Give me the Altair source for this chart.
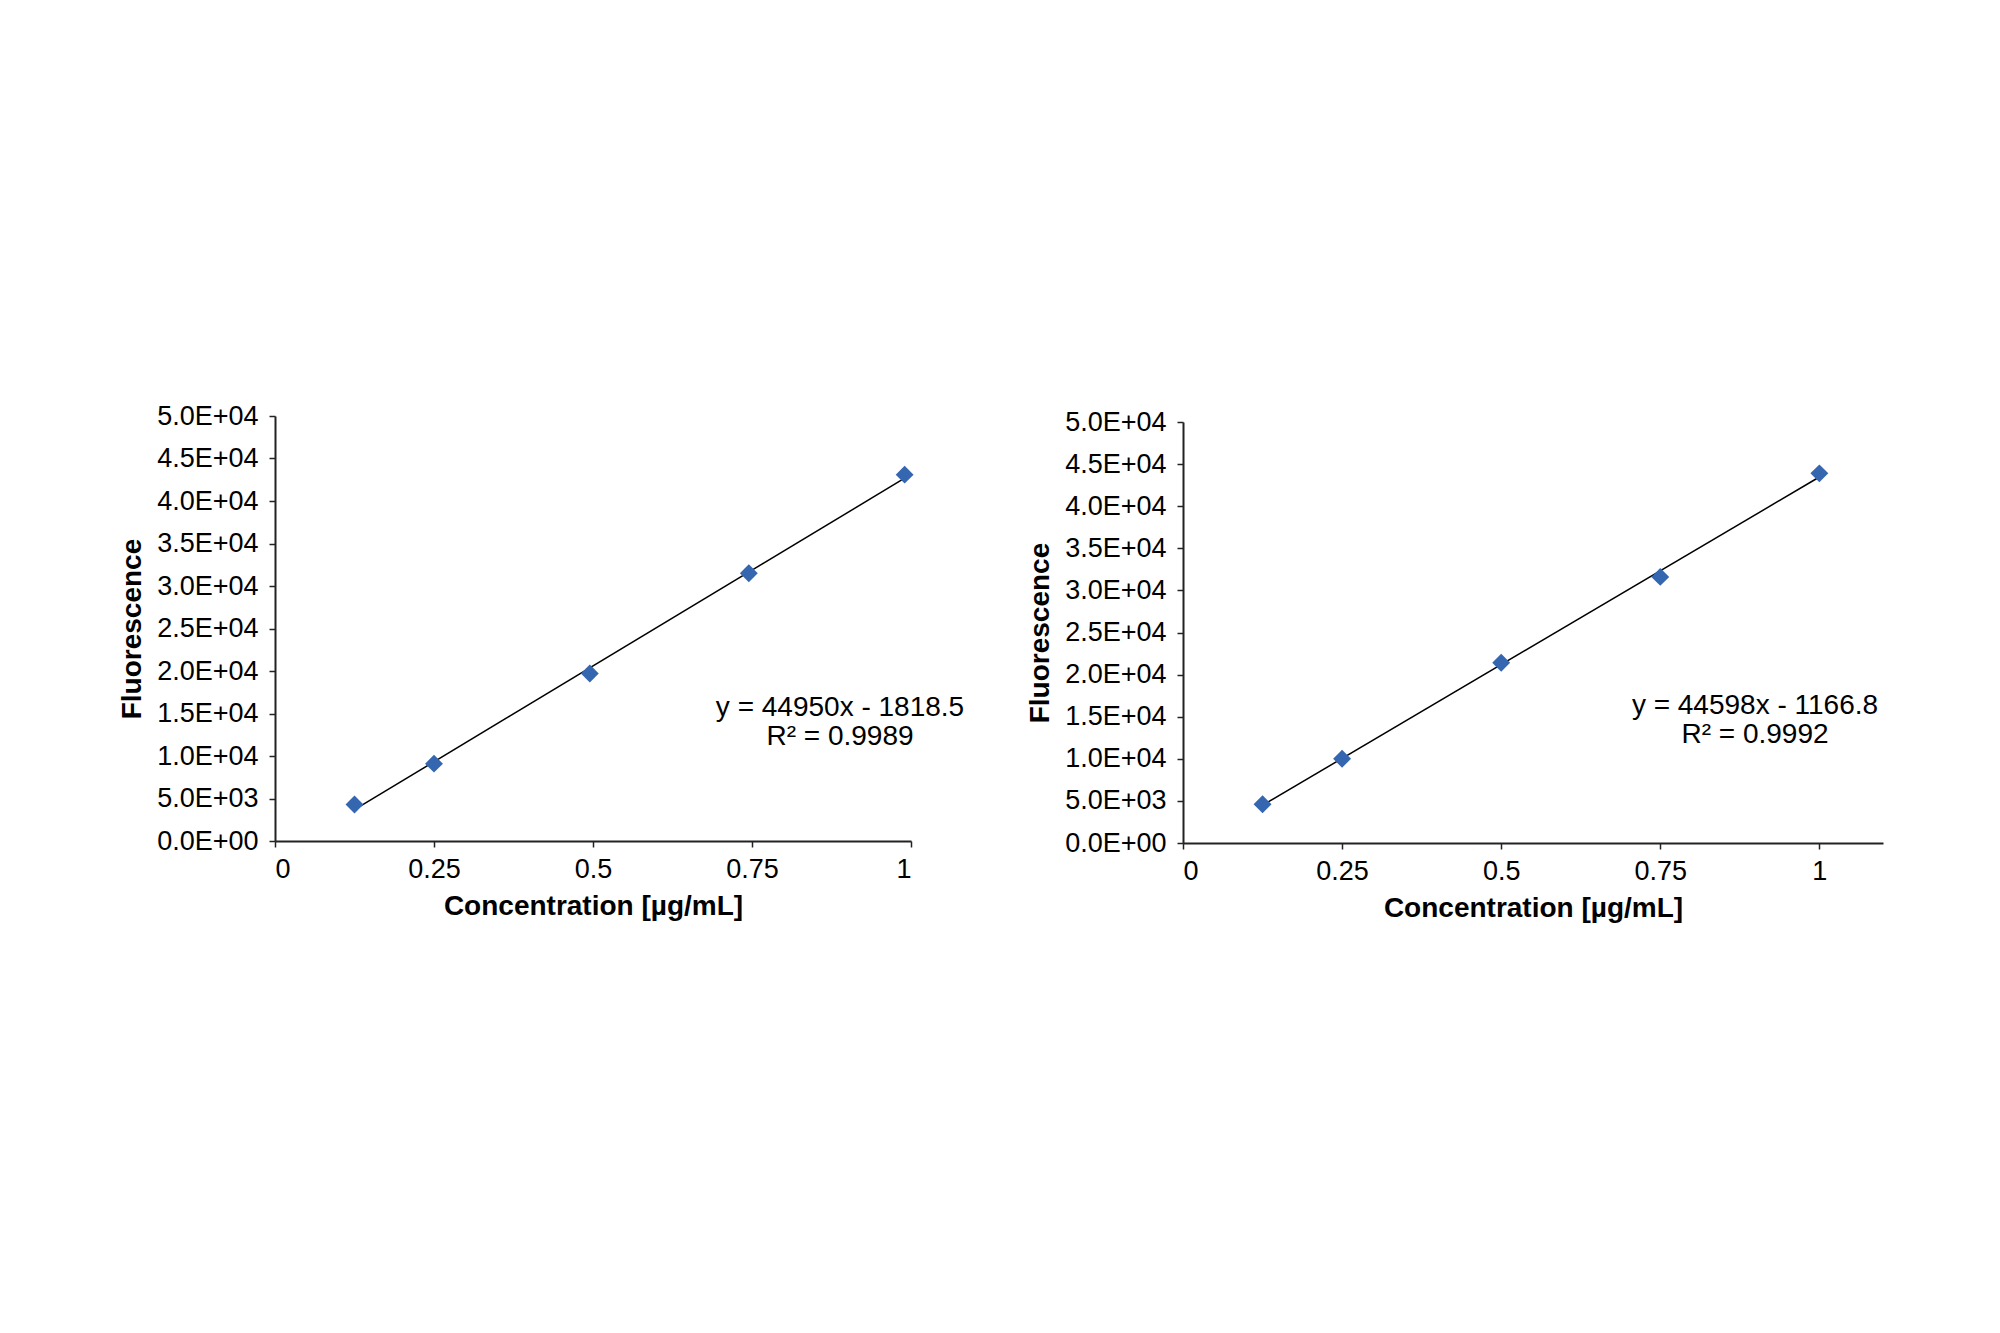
import altair as alt
import pandas as pd

# Left calibration
conc_left = [0.125, 0.25, 0.495, 0.745, 0.99]
fluor_left = [4300, 9100, 19700, 31500, 43100]
eq_left = "y = 44950x - 1818.5"
r2_left = "R² = 0.9989"

# Right calibration
conc_right = [0.125, 0.25, 0.5, 0.75, 1.0]
fluor_right = [4600, 10000, 21400, 31600, 43900]
eq_right = "y = 44598x - 1166.8"
r2_right = "R² = 0.9992"

x_ticks = [0, 0.25, 0.5, 0.75, 1]
y_ticks = [0, 5000, 10000, 15000, 20000, 25000, 30000, 35000, 40000, 45000, 50000]

FONT = "Liberation Sans"
BLUE = "#3566B0"

ylabel_expr = "replace(replace(format(datum.value, '.1e'), 'e+', 'E+0'), 'e-', 'E-0')"
xlabel_expr = "format(datum.value, '~g')"


def panel(xs, ys, eq, r2, xmax, w, h, top, tx, ty):
    df = pd.DataFrame({"x": xs, "y": ys})
    xenc = alt.X("x:Q", scale=alt.Scale(domain=[0, xmax], nice=False),
                 axis=alt.Axis(values=x_ticks, labelExpr=xlabel_expr,
                               title="Concentration [µg/mL]"))
    yenc = alt.Y("y:Q", scale=alt.Scale(domain=[0, 50000], nice=False, range=[h, top]),
                 axis=alt.Axis(values=y_ticks, labelExpr=ylabel_expr,
                               title="Fluorescence"))
    base = alt.Chart(df)
    line = base.transform_regression("x", "y").mark_line(
        color="black", strokeWidth=1.5).encode(x=xenc, y=yenc)
    pts = base.mark_point(shape="diamond", filled=True, size=320,
                          color=BLUE, opacity=1).encode(x=xenc, y=yenc)
    tdf = pd.DataFrame({"eq": [eq], "r2": [r2]})
    tbase = alt.Chart(tdf)
    t1 = tbase.mark_text(font=FONT, fontSize=28, fontWeight="normal", align="center",
                         baseline="alphabetic", color="black").encode(
        x=alt.value(tx), y=alt.value(ty), text="eq:N")
    t2 = tbase.mark_text(font=FONT, fontSize=28, fontWeight="normal", align="center",
                         baseline="alphabetic", color="black").encode(
        x=alt.value(tx), y=alt.value(ty + 29), text="r2:N")
    return alt.layer(line, pts, t1, t2).properties(width=w, height=h)


left = panel(conc_left, fluor_left, eq_left, r2_left, 1.0, 636, 425, 0, 565, 300)
right = panel(conc_right, fluor_right, eq_right, r2_right, 1.1, 700, 427, 6, 572, 298)

chart = alt.hconcat(left, right, spacing=61).properties(
    padding={"left": 110, "top": 394, "right": 10, "bottom": 10},
    background="white",
).configure_view(stroke=None).configure_axis(
    grid=False,
    domainColor="#222222",
    domainWidth=2,
    tickColor="#222222",
    tickWidth=1.5,
    tickSize=6,
    labelFont=FONT,
    labelColor="black",
    titleFont=FONT,
    titleColor="black",
    titleFontSize=28,
    titleFontWeight="bold",
).configure_axisY(
    labelFontSize=27,
    labelPadding=11,
    titlePadding=10,
).configure_axisX(
    labelFontSize=27,
    labelPadding=9,
    titlePadding=10,
)

chart.save("out.html", embed_options={"renderer": "svg", "actions": False})
